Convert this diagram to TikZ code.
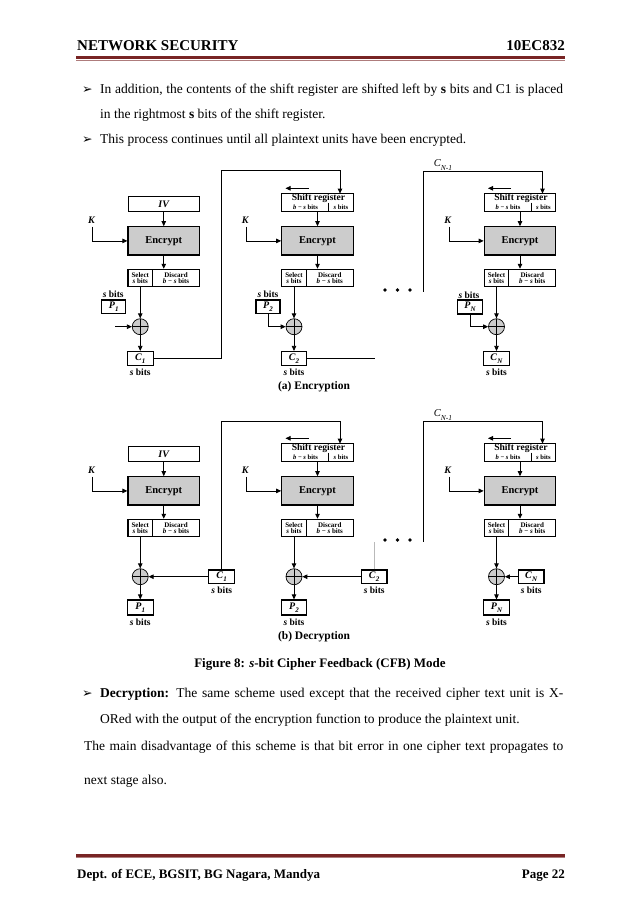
\documentclass[tikz,border=0pt]{standalone}
\usepackage{fontspec}
\setmainfont{Liberation Serif}
\newfontfamily\dejavu{DejaVu Sans}
\usetikzlibrary{arrows.meta}
\definecolor{hdrred}{RGB}{120,36,36}
\definecolor{encgray}{RGB}{204,204,204}
\newcommand\bodyfont{\fontsize{13.5}{16}\selectfont}
\newcommand\cbl[2]{\textbf{\textit{#1}}\kern0.2pt\raisebox{-0.3em}{\fontsize{7}{7}\selectfont\bfseries\itshape #2}}
\newcommand\sbits{\textit{s} bits}
\newcommand\cfbtop[4]{%
  \ifnum#4=1
    \node[bx, minimum width=71pt, minimum height=15pt, font=\fontsize{10}{10}\selectfont\bfseries\itshape] (#1in) at (#2,204.2+#3) {IV};
  \else
    \node[bx, minimum width=71.5pt, minimum height=18pt] (#1in) at (#2,202.6+#3) {};
    \node[tiny, font=\fontsize{9.6}{9.6}\selectfont\bfseries] (#1srt) at (#2+1,198.2+#3) {Shift register};
    \node[tiny, font=\fontsize{6.6}{6.6}\selectfont\bfseries] (#1srl) at (#2-12,207.6+#3) {\textit{b} − \textit{s} bits};
    \node[tiny, font=\fontsize{6.6}{6.6}\selectfont\bfseries] (#1srr) at (#2+23.4,207.6+#3) {\textit{s} bits};
    \draw[line width=0.6pt] (#2+11,202.6+#3) -- (#2+11,211.6+#3);
    \coordinate (#1sra) at (#2-9,188.3+#3);
    \coordinate (#1srb) at (#2-32,188.3+#3);
    \draw[ar] (#1sra) -- (#1srb);
    \coordinate (#1inp) at (#2+22.5,193.6+#3);
  \fi
  \node[enc] (#1enc) at (#2,240.9+#3) {Encrypt};
  \node[bx, minimum width=71.5pt, minimum height=17.3pt] (#1sel) at (#2,278+#3) {};
  \draw[line width=0.6pt] (#2-11.25,269.35+#3) -- (#2-11.25,286.65+#3);
  \node[tiny] (#1selt) at (#2-23.5,278+#3) {Select\\\textit{s} bits};
  \node[tiny] (#1dist) at (#2+12.25,278+#3) {Discard\\\textit{b} − \textit{s} bits};
  \node[lblk] (#1kl) at (#2-72,220+#3) {\textit{K}};
  \coordinate (#1k) at (#2-71,226.5+#3);
  \draw[ar] (#1k) |- (#1enc.west);
  \draw[ar] (#1in) -- (#1enc);
  \draw[ar] (#1enc) -- (#1sel);
  \node[xorc] (#1x) at (#2-23.5,326.7+#3) {};
  \draw[ar] (#1sel.south -| #1x) -- (#1x);
}
\begin{document}
\begin{tikzpicture}[x=1pt,y=-1pt,
  txt/.style={inner sep=0pt, anchor=base west, font=\bodyfont},
  bul/.style={inner sep=0pt, anchor=base west, font=\dejavu\fontsize{12.5}{12.5}\selectfont},
  bx/.style={draw, line width=1.2pt, inner sep=0pt, fill=white},
  enc/.style={bx, fill=encgray, minimum width=71.5pt, minimum height=28.3pt, font=\fontsize{10.5}{10.5}\selectfont\bfseries},
  cbox/.style={bx, minimum width=25.7pt, minimum height=13.6pt, font=\fontsize{10}{10}\selectfont},
  tiny/.style={inner sep=0pt, font=\fontsize{7}{6.4}\selectfont\bfseries, align=center},
  lbl/.style={inner sep=0pt, font=\fontsize{9.5}{9.5}\selectfont\bfseries},
  lblk/.style={inner sep=0pt, font=\fontsize{10}{10}\selectfont\bfseries},
  capt/.style={inner sep=0pt, font=\fontsize{11.5}{11.5}\selectfont\bfseries},
  ar/.style={-{Triangle[length=5pt,width=4.5pt]}, line width=0.8pt},
  ln/.style={line width=0.8pt},
  xorc/.style={circle, draw, fill=encgray, minimum size=16pt, inner sep=0pt, line width=0.7pt,
    path picture={\draw[line width=0.6pt] (path picture bounding box.north) -- (path picture bounding box.south) (path picture bounding box.west) -- (path picture bounding box.east);}}
]
\path[use as bounding box, fill=white] (0,0) rectangle (638,903);

% header
\node[txt, font=\fontsize{15}{15}\selectfont\bfseries] (h1) at (77,50) {NETWORK SECURITY};
\node[txt, anchor=base east, font=\fontsize{15}{15}\selectfont\bfseries] (h2) at (565,50) {10EC832};
\draw[hdrred, line width=3pt] (76,57.5) -- (565,57.5);
\draw[hdrred!60, line width=0.8pt] (76,60.2) -- (565,60.2);

% top text
\node[bul] (b1) at (82,93) {➢};
\node[txt] (l1) at (100,93) {\makebox[463pt][s]{In addition, the contents of the shift register are shifted left by \textbf{s} bits and C1 is placed}};
\node[txt] (l2) at (100,118) {in the rightmost \textbf{s} bits of the shift register.};
\node[bul] (b2) at (82,143) {➢};
\node[txt] (l3) at (100,143) {This process continues until all plaintext units have been encrypted.};

% ---------- encryption ----------
\cfbtop{ea}{163.75}{0}{1}
\cfbtop{eb}{317.5}{0}{0}
\cfbtop{en}{520}{0}{0}

\node[bx, minimum width=24pt, minimum height=13.3pt, font=\fontsize{10}{10}\selectfont] (eap) at (113.7,306.7) {\cbl{P}{1}};
\node[lbl] (eaps) at (113.2,294.3) {\sbits};
\coordinate (eapin) at (115,326.7);
\draw[ar] (eapin) -- (eax);
\node[cbox] (eac) at (140.25,358.3) {\cbl{C}{1}};
\draw[ar] (eax) -- (eac);
\node[lbl] (eacs) at (140.25,372) {\sbits};
\coordinate (eaf1) at (221.7,170.7);
\draw[ar] (eac.east) -| (eaf1) -| (ebinp);

\node[bx, minimum width=24pt, minimum height=13.3pt, font=\fontsize{10}{10}\selectfont] (ebp) at (268,306.7) {\cbl{P}{2}};
\node[lbl] (ebps) at (268,294.3) {\sbits};
\draw[ar] (ebp) |- (ebx);
\node[cbox] (ebc) at (294,358.3) {\cbl{C}{2}};
\draw[ar] (ebx) -- (ebc);
\node[lbl] (ebcs) at (294,372) {\sbits};
\coordinate (ebcend) at (375,358.3);
\draw[ln] (ebc) -- (ebcend);

\fill (385,290) circle (1.8) (397.5,290) circle (1.8) (410,290) circle (1.8);
\coordinate (enf1) at (423,291.7);
\coordinate (enf2) at (423,171.7);
\draw[ar] (enf1) -- (enf2) -| (eninp);
\node[inner sep=0pt, font=\fontsize{10.5}{10.5}\selectfont\itshape] (encn1) at (443,165) {C\raisebox{-0.3em}{\fontsize{7.5}{7.5}\selectfont \textit{N}-1}};

\node[bx, minimum width=25pt, minimum height=14pt, font=\fontsize{10}{10}\selectfont] (enp) at (470,307) {\cbl{P}{N}};
\node[lbl] (enps) at (469,294.8) {\sbits};
\draw[ar] (enp) |- (enx);
\node[cbox] (enc) at (496.5,358.3) {\cbl{C}{N}};
\draw[ar] (enx) -- (enc);
\node[lbl] (encs) at (496.5,372) {\sbits};

\node[capt] (capa) at (314,386.7) {(a) Encryption};

% ---------- decryption ----------
\cfbtop{da}{163.75}{250}{1}
\cfbtop{db}{317.5}{250}{0}
\cfbtop{dn}{520}{250}{0}

\node[cbox] (dac) at (221.7,576.7) {\cbl{C}{1}};
\node[lbl] (dacs) at (221.7,590.3) {\sbits};
\draw[ar] (dac) -- (dax);
\coordinate (daf1) at (221.7,421.7);
\draw[ar] (dac) -- (daf1) -| (dbinp);
\node[cbox, minimum height=15pt] (dap) at (140.25,607.5) {\cbl{P}{1}};
\draw[ar] (dax) -- (dap);
\node[lbl] (daps) at (140.25,622) {\sbits};

\node[cbox] (dbc) at (374.2,576.7) {\cbl{C}{2}};
\node[lbl] (dbcs) at (374.2,590.3) {\sbits};
\draw[ar] (dbc) -- (dbx);
\coordinate (dbcup) at (374.2,541.7);
\draw[gray!55, line width=0.6pt] (dbc) -- (dbcup);
\node[cbox, minimum height=15pt] (dbp) at (294,607.5) {\cbl{P}{2}};
\draw[ar] (dbx) -- (dbp);
\node[lbl] (dbps) at (294,622) {\sbits};

\fill (385,540) circle (1.8) (397.5,540) circle (1.8) (410,540) circle (1.8);
\coordinate (dnf1) at (423,541.7);
\coordinate (dnf2) at (423,421.7);
\draw[ar] (dnf1) -- (dnf2) -| (dninp);
\node[inner sep=0pt, font=\fontsize{10.5}{10.5}\selectfont\itshape] (dcn1) at (443,415) {C\raisebox{-0.3em}{\fontsize{7.5}{7.5}\selectfont \textit{N}-1}};

\node[cbox] (dnc) at (531.2,576.7) {\cbl{C}{N}};
\node[lbl] (dncs) at (531.2,590.3) {\sbits};
\draw[ar] (dnc) -- (dnx);
\node[cbox, minimum height=15pt] (dnp) at (496.5,607.5) {\cbl{P}{N}};
\draw[ar] (dnx) -- (dnp);
\node[lbl] (dnps) at (496.5,622) {\sbits};

\node[capt] (capb) at (314,636.7) {(b) Decryption};

% caption and text
\node[inner sep=0pt, font=\fontsize{13}{13}\selectfont\bfseries] (fig) at (320,664) {Figure 8: \textit{s}-bit Cipher Feedback (CFB) Mode};
\node[bul] (b3) at (82,697) {➢};
\node[txt] (l4) at (100,697) {\makebox[463pt][s]{\textbf{Decryption:} The same scheme used except that the received cipher text unit is X-}};
\node[txt] (l5) at (100,723) {ORed with the output of the encryption function to produce the plaintext unit.};
\node[txt] (l6) at (84,750) {\makebox[479pt][s]{The main disadvantage of this scheme is that bit error in one cipher text propagates to}};
\node[txt] (l7) at (84,784) {next stage also.};

% footer
\draw[hdrred, line width=3pt] (76,855) -- (565,855);
\draw[hdrred!60, line width=0.8pt] (76,857.7) -- (565,857.7);
\node[txt, font=\fontsize{13}{13}\selectfont\bfseries] (f1) at (77,878) {Dept. of ECE, BGSIT, BG Nagara, Mandya};
\node[txt, anchor=base east, font=\fontsize{13}{13}\selectfont\bfseries] (f2) at (565,878) {Page 22};
\end{tikzpicture}
\end{document}
